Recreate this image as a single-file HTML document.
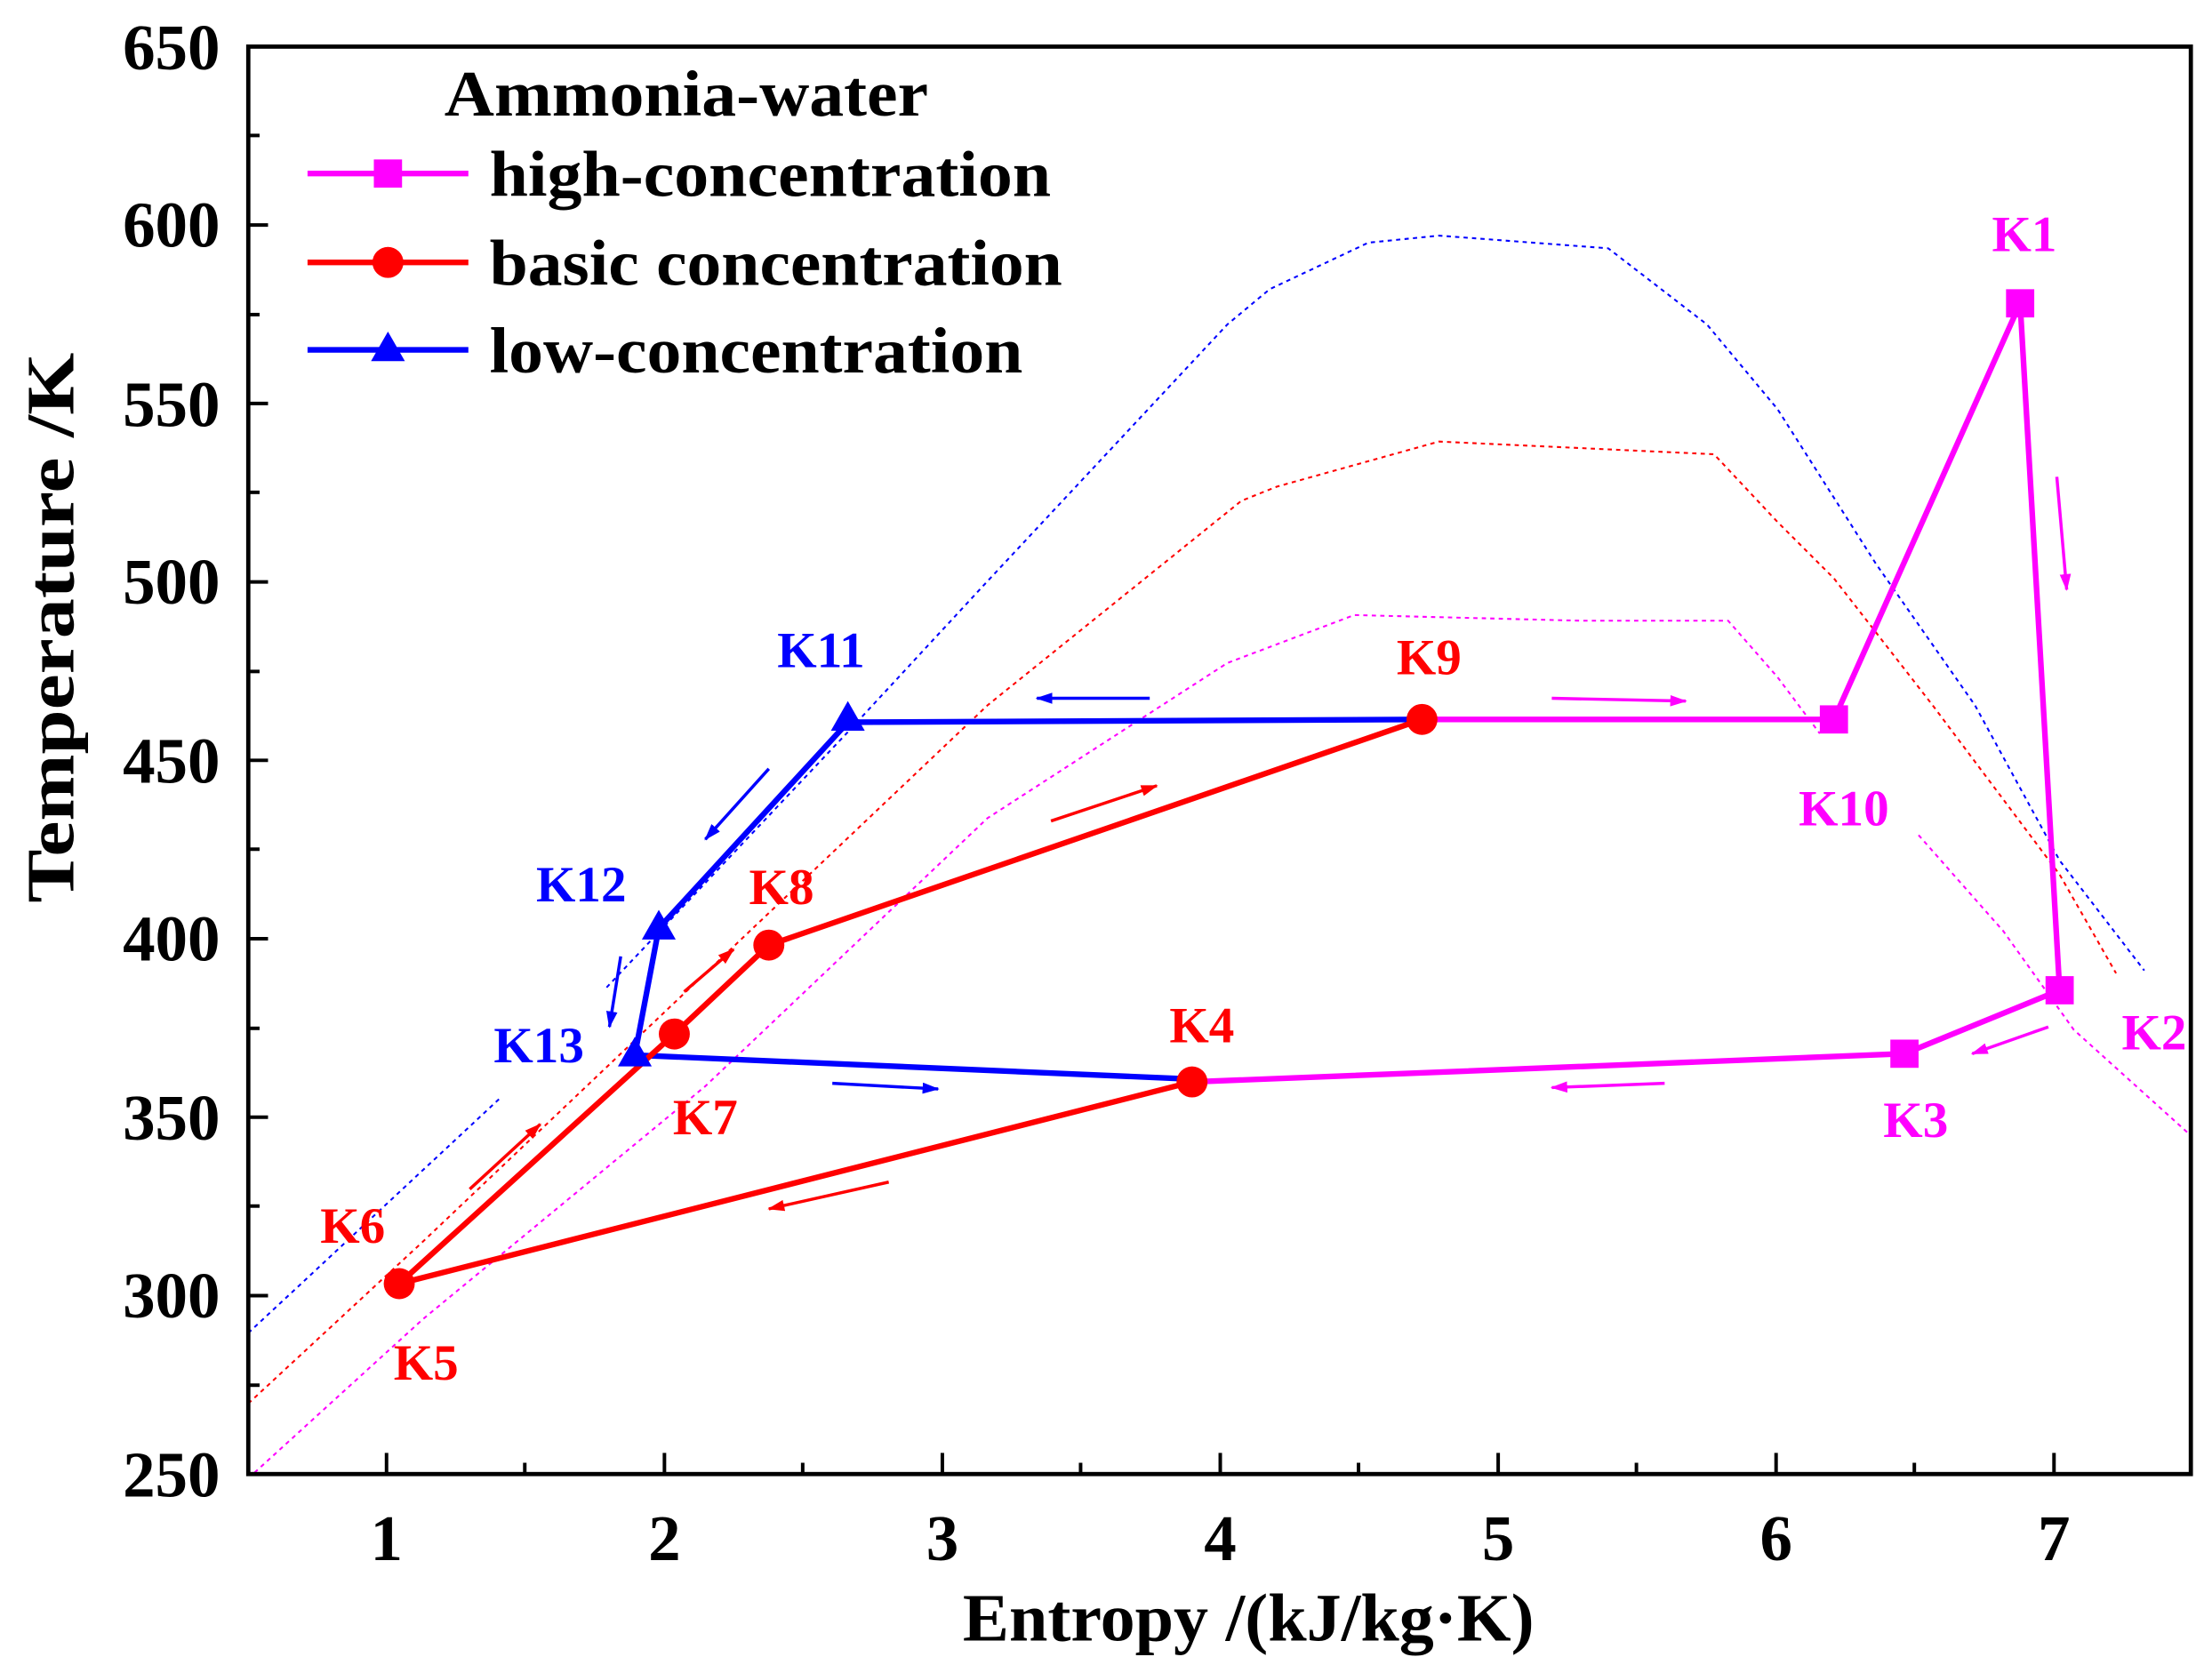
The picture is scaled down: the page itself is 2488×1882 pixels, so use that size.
<!DOCTYPE html>
<html><head><meta charset="utf-8"><style>html,body{margin:0;padding:0;background:#fff}svg{display:block}</style></head>
<body>
<svg width="2488" height="1882" viewBox="0 0 1568 1186" xmlns="http://www.w3.org/2000/svg" font-family="Liberation Serif, serif" font-weight="bold">
<defs>
<marker id="am" markerWidth="12" markerHeight="8" refX="11" refY="4" orient="auto" markerUnits="userSpaceOnUse" viewBox="0 0 12 8"><path d="M0,0L12,4L0,8z" fill="#f0f"/></marker>
<marker id="ab" markerWidth="12" markerHeight="8" refX="11" refY="4" orient="auto" markerUnits="userSpaceOnUse" viewBox="0 0 12 8"><path d="M0,0L12,4L0,8z" fill="#00f"/></marker>
<marker id="ar" markerWidth="12" markerHeight="8" refX="11" refY="4" orient="auto" markerUnits="userSpaceOnUse" viewBox="0 0 12 8"><path d="M0,0L12,4L0,8z" fill="#f00"/></marker>
<clipPath id="c"><rect x="176" y="33" width="1377" height="1012"/></clipPath>
</defs>
<rect width="1568" height="1186" fill="#fff"/>
<g clip-path="url(#c)" fill="none" stroke-width="1.3" stroke-dasharray="3,3">
<polyline stroke="#00f" points="176,945 355,778"/>
<polyline stroke="#00f" points="430,700 600,520 700,412 870,230 900,205 970,172 1020,167 1140,176 1210,230 1260,290 1330,400 1400,500 1460,610 1520,688"/>
<polyline stroke="#f00" points="176,995 300,880 500,690 700,500 880,355 905,345 1020,313 1215,322 1260,370 1300,410 1370,500 1460,620 1500,690"/>
<polyline stroke="#f0f" points="176,1048 300,935 500,770 700,580 870,470 960,436 1120,440 1225,440 1260,480 1290,520"/>
<polyline stroke="#f0f" points="1360,592 1420,660 1470,730 1553,805"/>
</g>
<g fill="none" stroke-width="4" stroke-linejoin="round">
<polyline stroke="#00f" points="1008,510 601,512 467,658 450,748 845,765"/>
<polyline stroke="#f00" points="845,767 283,910 478,733 545,670 1008,510"/>
<polyline stroke="#f0f" points="1008,510 1300,510 1432,215 1460,702 1350,747 845,767"/>
</g>
<g fill="#f0f"><rect x="1422" y="205" width="20" height="20"/><rect x="1450" y="692" width="20" height="20"/><rect x="1340" y="737" width="20" height="20"/><rect x="1290" y="500" width="20" height="20"/></g>
<g fill="#f00"><circle cx="845" cy="767" r="11"/><circle cx="283" cy="910" r="11"/><circle cx="478" cy="733" r="11"/><circle cx="545" cy="670" r="11"/><circle cx="1008" cy="510" r="11"/></g>
<g fill="#00f"><path d="M601,497L613,518L589,518z"/><path d="M467,645L479,666L455,666z"/><path d="M450,735L462,756L438,756z"/></g>
<g stroke-width="2.2" fill="none">
<line stroke="#f0f" x1="1100" y1="495" x2="1195" y2="497" marker-end="url(#am)"/>
<line stroke="#f0f" x1="1458" y1="338" x2="1465" y2="418" marker-end="url(#am)"/>
<line stroke="#f0f" x1="1452" y1="728" x2="1398" y2="747" marker-end="url(#am)"/>
<line stroke="#f0f" x1="1180" y1="768" x2="1100" y2="771" marker-end="url(#am)"/>
<line stroke="#00f" x1="815" y1="495" x2="735" y2="495" marker-end="url(#ab)"/>
<line stroke="#00f" x1="545" y1="545" x2="500" y2="595" marker-end="url(#ab)"/>
<line stroke="#00f" x1="440" y1="678" x2="432" y2="728" marker-end="url(#ab)"/>
<line stroke="#00f" x1="590" y1="768" x2="665" y2="772" marker-end="url(#ab)"/>
<line stroke="#f00" x1="745" y1="582" x2="820" y2="557" marker-end="url(#ar)"/>
<line stroke="#f00" x1="485" y1="703" x2="520" y2="673" marker-end="url(#ar)"/>
<line stroke="#f00" x1="333" y1="843" x2="383" y2="797" marker-end="url(#ar)"/>
<line stroke="#f00" x1="630" y1="838" x2="545" y2="857" marker-end="url(#ar)"/>
</g>
<g font-size="36" text-anchor="middle">
<text x="1435" y="178" fill="#f0f">K1</text><text x="1527" y="744" fill="#f0f">K2</text><text x="1358" y="806" fill="#f0f">K3</text><text x="1307" y="585" fill="#f0f">K10</text>
<text x="852" y="739" fill="#f00">K4</text><text x="302" y="978" fill="#f00">K5</text><text x="250" y="881" fill="#f00">K6</text><text x="500" y="804" fill="#f00">K7</text><text x="554" y="641" fill="#f00">K8</text><text x="1013" y="478" fill="#f00">K9</text>
<text x="582" y="473" fill="#00f">K11</text><text x="412" y="639" fill="#00f">K12</text><text x="382" y="753" fill="#00f">K13</text>
</g>
<rect x="176" y="33" width="1377" height="1012" fill="none" stroke="#000" stroke-width="3"/>
<g stroke="#000" stroke-width="2.5">
<line x1="176" y1="159.5" x2="190" y2="159.5"/><line x1="176" y1="286" x2="190" y2="286"/><line x1="176" y1="412.5" x2="190" y2="412.5"/><line x1="176" y1="539" x2="190" y2="539"/><line x1="176" y1="665.5" x2="190" y2="665.5"/><line x1="176" y1="792" x2="190" y2="792"/><line x1="176" y1="918.5" x2="190" y2="918.5"/>
<line x1="176" y1="96" x2="184" y2="96"/><line x1="176" y1="223" x2="184" y2="223"/><line x1="176" y1="349" x2="184" y2="349"/><line x1="176" y1="476" x2="184" y2="476"/><line x1="176" y1="602" x2="184" y2="602"/><line x1="176" y1="729" x2="184" y2="729"/><line x1="176" y1="855" x2="184" y2="855"/><line x1="176" y1="982" x2="184" y2="982"/>
<line x1="274" y1="1045" x2="274" y2="1030"/><line x1="471" y1="1045" x2="471" y2="1030"/><line x1="668" y1="1045" x2="668" y2="1030"/><line x1="865" y1="1045" x2="865" y2="1030"/><line x1="1062" y1="1045" x2="1062" y2="1030"/><line x1="1259" y1="1045" x2="1259" y2="1030"/><line x1="1456" y1="1045" x2="1456" y2="1030"/>
<line x1="372" y1="1045" x2="372" y2="1037"/><line x1="569" y1="1045" x2="569" y2="1037"/><line x1="766" y1="1045" x2="766" y2="1037"/><line x1="963" y1="1045" x2="963" y2="1037"/><line x1="1160" y1="1045" x2="1160" y2="1037"/><line x1="1357" y1="1045" x2="1357" y2="1037"/>
</g>
<g font-size="46" text-anchor="end" textLength="74">
<text x="156" y="49">650</text><text x="156" y="175">600</text><text x="156" y="302">550</text><text x="156" y="428">500</text><text x="156" y="555">450</text><text x="156" y="681">400</text><text x="156" y="808">350</text><text x="156" y="934">300</text><text x="156" y="1061">250</text>
</g>
<g font-size="46" text-anchor="middle">
<text x="274" y="1106">1</text><text x="471" y="1106">2</text><text x="668" y="1106">3</text><text x="865" y="1106">4</text><text x="1062" y="1106">5</text><text x="1259" y="1106">6</text><text x="1456" y="1106">7</text>
</g>
<text x="885" y="1163" font-size="48" text-anchor="middle" textLength="405" lengthAdjust="spacingAndGlyphs">Entropy /(kJ/kg·K)</text>
<text transform="translate(52,445) rotate(-90)" font-size="48" text-anchor="middle" textLength="390" lengthAdjust="spacingAndGlyphs">Temperature /K</text>
<g font-size="46">
<text x="315" y="82" textLength="343" lengthAdjust="spacingAndGlyphs">Ammonia-water</text>
<text x="347" y="139" textLength="398" lengthAdjust="spacingAndGlyphs">high-concentration</text>
<text x="347" y="202" textLength="406" lengthAdjust="spacingAndGlyphs">basic concentration</text>
<text x="347" y="264" textLength="378" lengthAdjust="spacingAndGlyphs">low-concentration</text>
</g>
<line x1="218" y1="123" x2="332" y2="123" stroke="#f0f" stroke-width="4"/><rect x="265" y="113" width="20" height="20" fill="#f0f"/>
<line x1="218" y1="186" x2="332" y2="186" stroke="#f00" stroke-width="4"/><circle cx="275" cy="186" r="11" fill="#f00"/>
<line x1="218" y1="248" x2="332" y2="248" stroke="#00f" stroke-width="4"/><path d="M275,235L287,256L263,256z" fill="#00f"/>
</svg>
</body></html>
